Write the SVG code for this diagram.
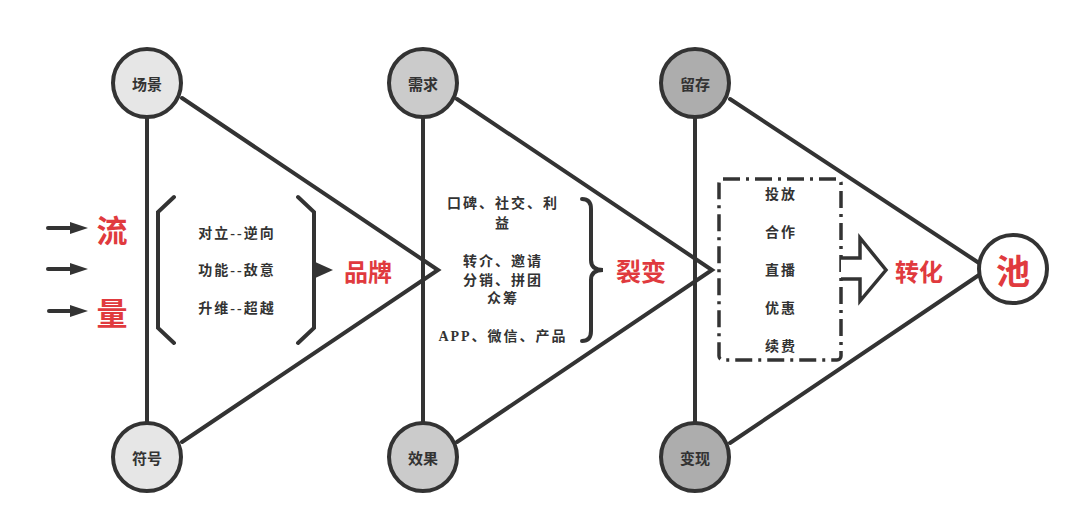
<svg xmlns="http://www.w3.org/2000/svg" width="1080" height="524" viewBox="0 0 1080 524">
<style>
.ln{stroke:#333;stroke-width:4;fill:none;stroke-linecap:round;stroke-linejoin:miter}
.c{stroke:#333;stroke-width:4}
.c1{fill:#e6e6e6}.c2{fill:#cbcbcb}.c3{fill:#adadad}
.lb{font-family:"Noto Sans CJK SC","Liberation Sans",sans-serif;font-size:15px;font-weight:bold;fill:#333;text-anchor:middle;dominant-baseline:central}
.tx{font-family:"Liberation Serif","Noto Sans CJK SC",serif;font-size:14px;font-weight:bold;fill:#333;text-anchor:middle;dominant-baseline:central;letter-spacing:2px}
.red{font-family:"Noto Sans CJK SC","Liberation Sans",sans-serif;font-weight:bold;fill:#e03a3e;text-anchor:middle;dominant-baseline:central}
</style>
<rect width="1080" height="524" fill="#fff"/>
<g id="connectors">
<line class="ln" x1="147" y1="118" x2="147" y2="422"/>
<polyline class="ln" points="182,98 438,270 182,442"/>
<line class="ln" x1="423" y1="118" x2="423" y2="422"/>
<polyline class="ln" points="457,99 712,270 457,442"/>
<line class="ln" x1="695" y1="118" x2="695" y2="422"/>
<line class="ln" x1="730" y1="99" x2="979" y2="263"/>
<line class="ln" x1="730" y1="443" x2="979" y2="275"/>
<g id="inflow">
<line class="ln" x1="48" y1="228" x2="72" y2="228"/>
<polygon points="70,222 88,228 70,234" fill="#333"/>
<line class="ln" x1="48" y1="269" x2="72" y2="269"/>
<polygon points="70,263 88,269 70,275" fill="#333"/>
<line class="ln" x1="49" y1="311" x2="72" y2="311"/>
<polygon points="70,305 88,311 70,317" fill="#333"/>
</g>
</g>
<g id="n-changjing"><circle class="c c1" cx="147" cy="83" r="34"/><text class="lb" x="147" y="83">场景</text></g>
<g id="n-fuhao"><circle class="c c1" cx="147" cy="457" r="34"/><text class="lb" x="147" y="457">符号</text></g>
<g id="n-xuqiu"><circle class="c c2" cx="423" cy="83" r="34"/><text class="lb" x="423" y="83">需求</text></g>
<g id="n-xiaoguo"><circle class="c c2" cx="423" cy="457" r="34"/><text class="lb" x="423" y="457">效果</text></g>
<g id="n-liucun"><circle class="c c3" cx="695" cy="83" r="34"/><text class="lb" x="695" y="83">留存</text></g>
<g id="n-bianxian"><circle class="c c3" cx="695" cy="457" r="34"/><text class="lb" x="695" y="457">变现</text></g>
<g id="n-chi"><circle class="c" fill="#fff" cx="1013" cy="269" r="34"/><text class="red" x="1013" y="269" font-size="34">池</text></g>
<g id="liuliang">
<text class="red" x="112" y="228" font-size="31">流</text>
<text class="red" x="112" y="311" font-size="31">量</text>
</g>
<g id="brand">
<polyline class="ln" points="174,197 158,212 158,328 174,343"/>
<polyline class="ln" points="298,197 314,212 314,328 298,343"/>
<text class="tx" x="237" y="233">对立--逆向</text>
<text class="tx" x="237" y="270">功能--敌意</text>
<text class="tx" x="237" y="308">升维--超越</text>
<polygon points="313,261 333,270 313,279" fill="#333"/>
<text class="red" x="368" y="270" font-size="24">品牌</text>
</g>
<g id="fission">
<text class="tx" x="503" y="203">口碑、社交、利</text>
<text class="tx" x="503" y="223">益</text>
<text class="tx" x="503" y="261">转介、邀请</text>
<text class="tx" x="503" y="280">分销、拼团</text>
<text class="tx" x="503" y="298">众筹</text>
<text class="tx" x="503" y="336">APP、微信、产品</text>
<path class="ln" stroke-width="3" d="M582,199 Q591,199 591,209 V260 Q591,270 603,270 Q591,270 591,280 V331 Q591,341 582,341"/>
<text class="red" x="641" y="270" font-size="25">裂变</text>
</g>
<g id="conversion">
<rect x="719" y="179" width="122" height="181" rx="4" fill="none" stroke="#333" stroke-width="3.5" stroke-dasharray="17 6 3 6"/>
<text class="tx" x="781" y="194">投放</text>
<text class="tx" x="781" y="232">合作</text>
<text class="tx" x="781" y="270">直播</text>
<text class="tx" x="781" y="308">优惠</text>
<text class="tx" x="781" y="346">续费</text>
<path d="M841,258 H860 V238 L886,270 L860,301 V279 H841" fill="#fff" stroke="#333" stroke-width="3.5" stroke-linejoin="miter"/>
<text class="red" x="919" y="270" font-size="24">转化</text>
</g>
</svg>
